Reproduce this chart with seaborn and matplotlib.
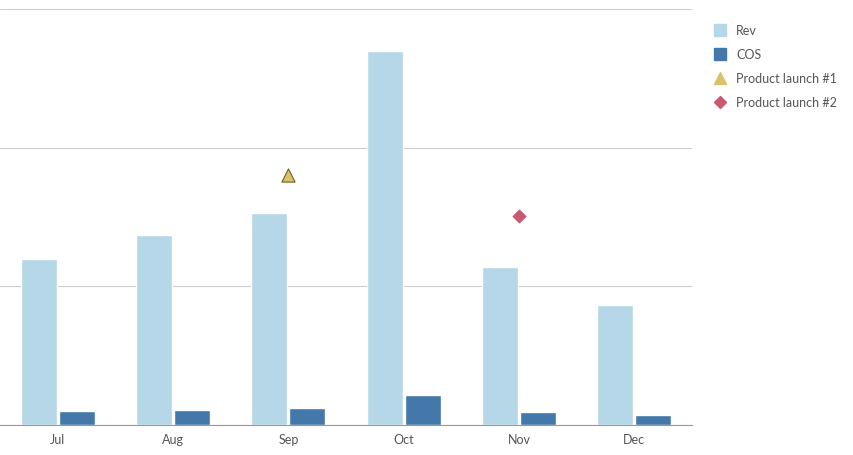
import matplotlib
matplotlib.use("Agg")
import matplotlib.pyplot as plt
import seaborn as sns
import pandas as pd
from matplotlib.lines import Line2D

months = ["Jul", "Aug", "Sep", "Oct", "Nov", "Dec"]
rev = [1.20, 1.37, 1.53, 2.70, 1.14, 0.865]
cos = [0.10, 0.108, 0.123, 0.216, 0.094, 0.072]
launch1_month, launch1_val = "Sep", 1.80
launch2_month, launch2_val = "Nov", 1.51

sns.set_style("white")
plt.rcParams['font.family'] = ['Lato', 'DejaVu Sans']

df = pd.DataFrame({"month": months * 2, "value": rev + cos,
                   "series": ["Rev"] * 6 + ["COS"] * 6})
fig = plt.figure(figsize=(8.54, 4.56), dpi=100)
ax = fig.add_axes([0, 30/456, 692/854, 416/456])
sns.barplot(data=df, x="month", y="value", hue="series", order=months,
            palette={"Rev": "#b6d7e8", "COS": "#4477aa"}, width=0.66, gap=0.05,
            ax=ax, legend=False, saturation=1)
ax.scatter([months.index(launch1_month)], [launch1_val], marker="^", s=90,
           color="#d9c26b", edgecolor="#6b5d2a", linewidth=0.8, zorder=5)
ax.scatter([months.index(launch2_month)], [launch2_val], marker="D", s=40,
           color="#c8596e", zorder=5)
ax.set_xlim(-0.5, 5.5)
ax.set_ylim(0, 3)
ax.set_yticks([0, 1, 2, 3])
ax.set_yticklabels([])
ax.yaxis.grid(True, color="#cccccc", linewidth=0.8)
ax.set_axisbelow(True)
for s in ["left", "right", "top"]:
    ax.spines[s].set_visible(False)
ax.spines["bottom"].set_color("#999999")
ax.tick_params(axis="y", length=0)
ax.tick_params(axis="x", length=0, labelsize=9, colors="#555555", pad=6)
ax.set_xlabel(""); ax.set_ylabel("")

handles = [
    Line2D([], [], marker="s", ls="", color="#b6d7e8", markersize=8),
    Line2D([], [], marker="s", ls="", color="#4477aa", markersize=8),
    Line2D([], [], marker="^", ls="", color="#d9c26b", markersize=8),
    Line2D([], [], marker="D", ls="", color="#c8596e", markersize=6),
]
fig.legend(handles, ["Rev", "COS", "Product launch #1", "Product launch #2"],
           loc="upper left", bbox_to_anchor=(696/854, 1 - 14/456), frameon=False,
           fontsize=9, labelcolor="#555555", handletextpad=0.3, labelspacing=0.95)
fig.savefig("out.png", dpi=100)
